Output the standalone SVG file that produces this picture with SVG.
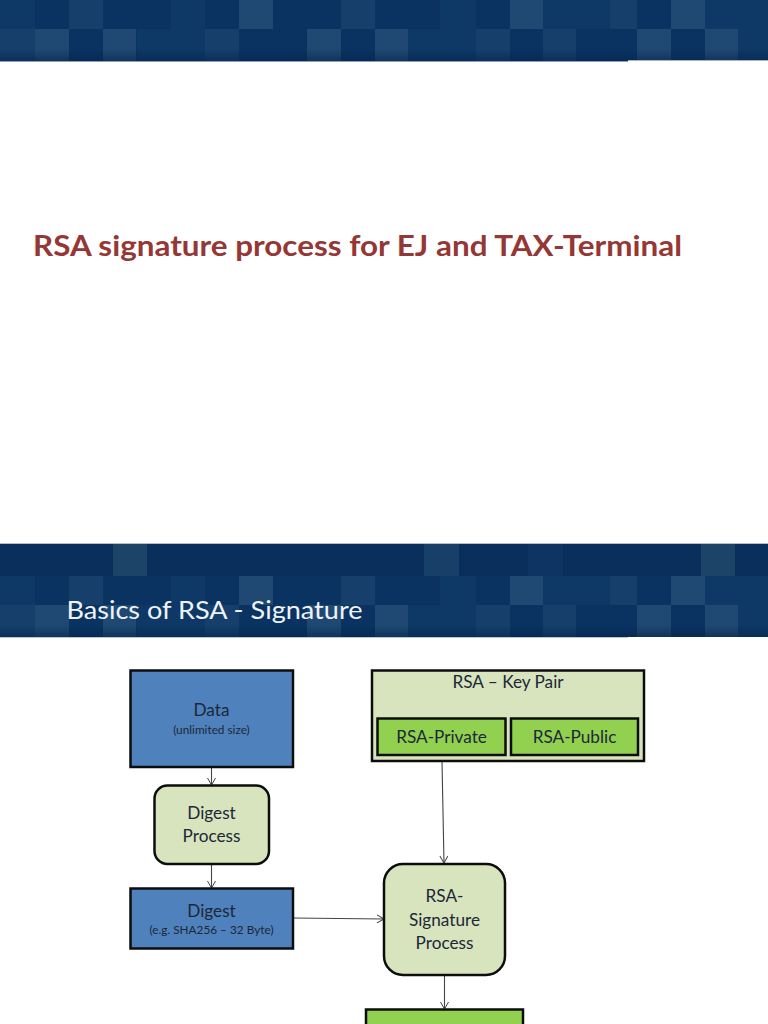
<svg xmlns="http://www.w3.org/2000/svg" xmlns:xlink="http://www.w3.org/1999/xlink" width="768" height="1024" viewBox="0 0 768 1024">
<style>
text{font-family:Lato,"Open Sans","Liberation Sans",sans-serif;text-anchor:middle;fill:#1c2838}
.n{font-size:17.200px}
.s{font-size:11.800px}
.b{stroke:#0d0d0d;stroke-width:2.500}
.blue{fill:#4f81bd}
.pale{fill:#d7e4bd}
.green{fill:#92d050}
.c{fill:none;stroke:#444;stroke-width:1.100;marker-end:url(#a)}
.d{fill:#0a3362}.m{fill:#0e3866}.l{fill:#163f6c}.h{fill:#1f4972}
</style>
<defs>
<marker id="a" markerWidth="9" markerHeight="9" refX="8" refY="4.500" orient="auto" markerUnits="userSpaceOnUse"><path d="M1 .5L8 4.500L1 8.500" fill="none" stroke="#444" stroke-width="1"/></marker>
<linearGradient id="sh" x1="0" y1="0" x2="0" y2="1"><stop offset="0" stop-color="#04234a" stop-opacity="0"/><stop offset="1" stop-color="#04234a" stop-opacity=".55"/></linearGradient>
<g id="tiles">
<rect class="d" x="0" y="0" width="768" height="61"/>
<rect class="m" x="0" y="0" width="35" height="29"/>
<rect class="l" x="69" y="0" width="34" height="29"/>
<rect class="m" x="171" y="0" width="34" height="29"/>
<rect class="h" x="239" y="0" width="34" height="29"/>
<rect class="l" x="341" y="0" width="34" height="29"/>
<rect class="m" x="440" y="0" width="36" height="29"/>
<rect class="h" x="510" y="0" width="33" height="29"/>
<rect class="m" x="543" y="0" width="67" height="29"/>
<rect class="l" x="610" y="0" width="27" height="29"/>
<rect class="h" x="671" y="0" width="34" height="29"/>
<rect class="m" x="705" y="0" width="63" height="29"/>
<rect class="l" x="0" y="29" width="35" height="32"/>
<rect class="h" x="35" y="29" width="34" height="32"/>
<rect class="h" x="103" y="29" width="33" height="32"/>
<rect class="m" x="137" y="29" width="68" height="32"/>
<rect class="l" x="205" y="29" width="34" height="32"/>
<rect class="h" x="307" y="29" width="34" height="32"/>
<rect class="h" x="375" y="29" width="33" height="32"/>
<rect class="m" x="408" y="29" width="68" height="32"/>
<rect class="l" x="476" y="29" width="34" height="32"/>
<rect class="l" x="543" y="29" width="33" height="32"/>
<rect class="h" x="637" y="29" width="34" height="32"/>
<rect class="h" x="705" y="29" width="33" height="32"/>
<rect class="m" x="738" y="29" width="30" height="32"/>
<rect fill="url(#sh)" x="0" y="49" width="768" height="12"/>
</g>
</defs>
<rect width="768" height="1024" fill="#fff"/>
<use xlink:href="#tiles" href="#tiles"/>
<rect x="0" y="61" width="628" height="1" fill="#8ea0b4"/>
<rect x="628" y="60" width="140" height="1" fill="#a8b2bd"/>
<text x="357.500" y="256" text-anchor="middle" style="font-size:28.500px;font-weight:700;fill:#953735" textLength="649" lengthAdjust="spacingAndGlyphs">RSA signature process for EJ and TAX-Terminal</text>
<rect x="0" y="543" width="768" height="1.500" fill="#b5bcc4"/>
<rect x="0" y="544" width="768" height="32" fill="#0a2f5c"/>
<rect x="113" y="544" width="34" height="32" fill="#1c4468"/>
<rect x="424" y="544" width="35" height="32" fill="#173f68"/>
<rect x="528" y="544" width="35" height="32" fill="#0d3462"/>
<rect x="701" y="544" width="34" height="32" fill="#1c4468"/>
<use xlink:href="#tiles" href="#tiles" y="576"/>
<rect x="0" y="637" width="628" height="1" fill="#b9c6d2"/>
<text x="214.500" y="619" style="font-size:25px;fill:#eef3f8" textLength="296" lengthAdjust="spacingAndGlyphs">Basics of RSA - Signature</text>
<g id="connectors">
<path class="c" d="M211.500 767V785"/>
<path class="c" d="M211.500 864V888"/>
<path class="c" d="M293 918L384 919"/>
<path class="c" d="M442 761L444 863"/>
<path class="c" d="M444.500 975V1009"/>
</g>
<g id="data">
<rect class="b blue" x="130.500" y="670.500" width="162.500" height="96.500"/>
<text class="n" x="211.500" y="716">Data</text>
<text class="s" x="211.500" y="734">(unlimited size)</text>
</g>
<g id="digest-process">
<rect class="b pale" x="154.500" y="785.500" width="114.500" height="78.500" rx="13"/>
<text class="n" x="211.500" y="819">Digest</text>
<text class="n" x="211.500" y="842">Process</text>
</g>
<g id="digest">
<rect class="b blue" x="130.500" y="888.500" width="162.500" height="60"/>
<text class="n" x="211.500" y="916.500">Digest</text>
<text class="s" x="211.500" y="934">(e.g. SHA256 – 32 Byte)</text>
</g>
<g id="key-pair">
<rect class="b pale" x="372" y="670.500" width="272" height="90.500"/>
<text class="n" x="508" y="688">RSA – Key Pair</text>
</g>
<g id="rsa-private">
<rect class="b green" x="377.500" y="718.500" width="128" height="36.500"/>
<text class="n" x="441.500" y="742.500">RSA-Private</text>
</g>
<g id="rsa-public">
<rect class="b green" x="511" y="718.500" width="127" height="36.500"/>
<text class="n" x="574.500" y="742.500">RSA-Public</text>
</g>
<g id="rsa-signature">
<rect class="b pale" x="384" y="864" width="121" height="111" rx="19"/>
<text class="n" x="444.500" y="902">RSA-</text>
<text class="n" x="444.500" y="925.500">Signature</text>
<text class="n" x="444.500" y="948.500">Process</text>
</g>
<g id="signature-output">
<rect class="b green" x="366" y="1009.500" width="157" height="30"/>
</g>
</svg>
